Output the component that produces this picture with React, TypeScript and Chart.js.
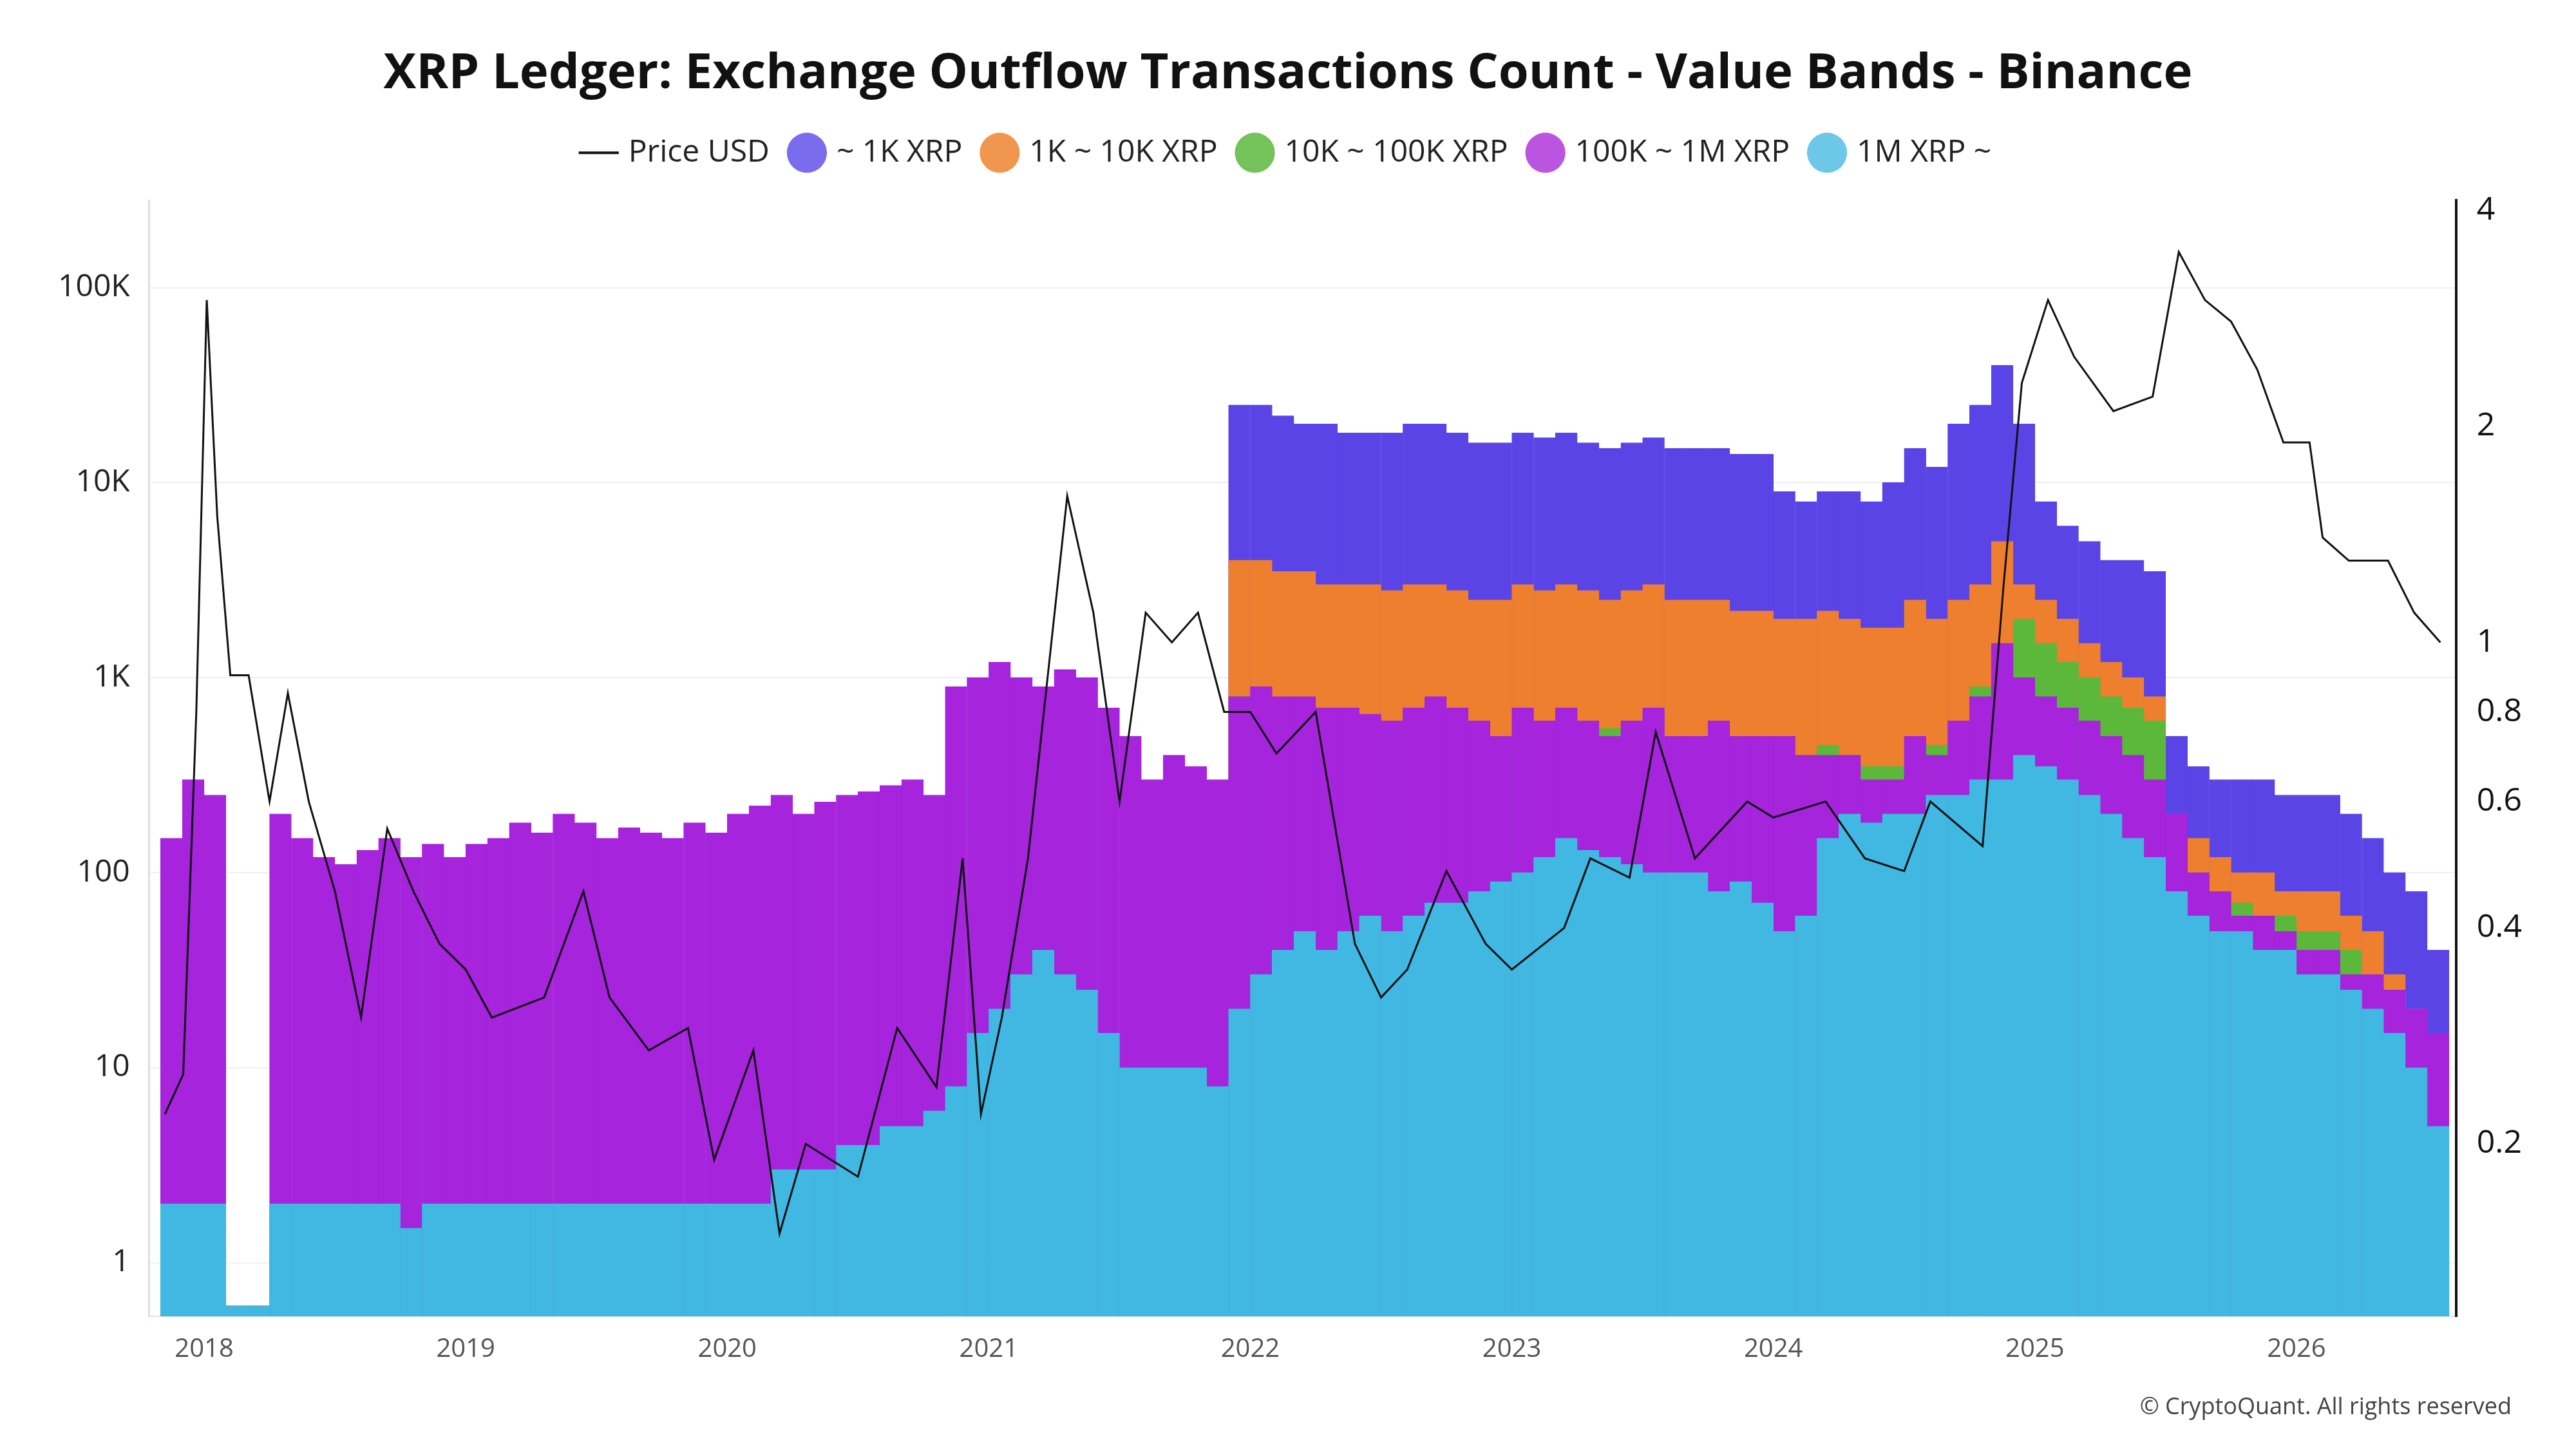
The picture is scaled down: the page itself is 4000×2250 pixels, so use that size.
import React, { useEffect, useRef } from 'react';
import { Chart, registerables } from 'chart.js';

Chart.register(...registerables);

// monthly buckets, Nov 2017 .. Jul 2026
const START_MONTH = 10; // Nov 2017 (0-based month of 2017)
const N = 105;
const months = Array.from({ length: N }, (_, i) => 2017 + (START_MONTH + i) / 12 + 1 / 24);

const pre = Array(49).fill(null);

const band100kTo1m = [
  150, 300,
  250, 0.6, 0.6, 200, 150, 120, 110, 130, 150, 120, 140, 120,
  140, 150, 180, 160, 200, 180, 150, 170, 160, 150, 180, 160,
  200, 220, 250, 200, 230, 250, 260, 280, 300, 250, 900, 1000,
  1200, 1000, 900, 1100, 1000, 700, 500, 300, 400, 350, 300, 800,
  900, 800, 800, 700, 700, 650, 600, 700, 800, 700, 600, 500,
  700, 600, 700, 600, 500, 600, 700, 500, 500, 600, 500, 500,
  500, 400, 400, 400, 300, 300, 500, 400, 600, 800, 1500, 1000,
  800, 700, 600, 500, 400, 300, 200, 100, 80, 60, 60, 50,
  40, 40, 30, 30, 25, 20, 15,
];

const band1mPlus = [
  2, 2,
  2, 0.6, 0.6, 2, 2, 2, 2, 2, 2, 1.5, 2, 2,
  2, 2, 2, 2, 2, 2, 2, 2, 2, 2, 2, 2,
  2, 2, 3, 3, 3, 4, 4, 5, 5, 6, 8, 15,
  20, 30, 40, 30, 25, 15, 10, 10, 10, 10, 8, 20,
  30, 40, 50, 40, 50, 60, 50, 60, 70, 70, 80, 90,
  100, 120, 150, 130, 120, 110, 100, 100, 100, 80, 90, 70,
  50, 60, 150, 200, 180, 200, 200, 250, 250, 300, 300, 400,
  350, 300, 250, 200, 150, 120, 80, 60, 50, 50, 40, 40,
  30, 30, 25, 20, 15, 10, 5,
];

const band10kTo100k = [
  ...pre, 800,
  800, 700, 700, 700, 600, 600, 600, 650, 600, 600, 550, 500,
  600, 600, 700, 600, 550, 600, 650, 500, 500, 500, 450, 450,
  450, 400, 450, 400, 350, 350, 500, 450, 600, 900, 1500, 2000,
  1500, 1200, 1000, 800, 700, 600, 150, 100, 80, 70, 60, 60,
  50, 50, 40, 30, 20, 15, 8,
];

const band1kTo10k = [
  ...pre, 4000,
  4000, 3500, 3500, 3000, 3000, 3000, 2800, 3000, 3000, 2800, 2500, 2500,
  3000, 2800, 3000, 2800, 2500, 2800, 3000, 2500, 2500, 2500, 2200, 2200,
  2000, 2000, 2200, 2000, 1800, 1800, 2500, 2000, 2500, 3000, 5000, 3000,
  2500, 2000, 1500, 1200, 1000, 800, 200, 150, 120, 100, 100, 80,
  80, 80, 60, 50, 30, 20, 10,
];

const bandTo1k = [
  ...pre, 25000,
  25000, 22000, 20000, 20000, 18000, 18000, 18000, 20000, 20000, 18000, 16000, 16000,
  18000, 17000, 18000, 16000, 15000, 16000, 17000, 15000, 15000, 15000, 14000, 14000,
  9000, 8000, 9000, 9000, 8000, 10000, 15000, 12000, 20000, 25000, 40000, 20000,
  8000, 6000, 5000, 4000, 4000, 3500, 500, 350, 300, 300, 300, 250,
  250, 250, 200, 150, 100, 80, 40,
];

const priceDates = [
  2017.85, 2017.92, 2017.97, 2018.01, 2018.05, 2018.1, 2018.17, 2018.25, 2018.32, 2018.4, 2018.5, 2018.6,
  2018.7, 2018.8, 2018.9, 2019.0, 2019.1, 2019.3, 2019.45, 2019.55, 2019.7, 2019.85, 2019.95, 2020.1,
  2020.2, 2020.3, 2020.5, 2020.65, 2020.8, 2020.9, 2020.97, 2021.05, 2021.15, 2021.3, 2021.4, 2021.5,
  2021.6, 2021.7, 2021.8, 2021.9, 2022.0, 2022.1, 2022.25, 2022.4, 2022.5, 2022.6, 2022.75, 2022.9,
  2023.0, 2023.2, 2023.3, 2023.45, 2023.55, 2023.7, 2023.9, 2024.0, 2024.2, 2024.35, 2024.5, 2024.6,
  2024.8, 2024.88, 2024.95, 2025.05, 2025.15, 2025.3, 2025.45, 2025.55, 2025.65, 2025.75, 2025.85, 2025.95,
  2026.0, 2026.05, 2026.1, 2026.2, 2026.35, 2026.45, 2026.55,
];
const priceUsd = [
  0.22, 0.25, 0.8, 3.0, 1.5, 0.9, 0.9, 0.6, 0.85, 0.6, 0.45, 0.3,
  0.55, 0.45, 0.38, 0.35, 0.3, 0.32, 0.45, 0.32, 0.27, 0.29, 0.19, 0.27,
  0.15, 0.2, 0.18, 0.29, 0.24, 0.5, 0.22, 0.3, 0.5, 1.6, 1.1, 0.6,
  1.1, 1.0, 1.1, 0.8, 0.8, 0.7, 0.8, 0.38, 0.32, 0.35, 0.48, 0.38,
  0.35, 0.4, 0.5, 0.47, 0.75, 0.5, 0.6, 0.57, 0.6, 0.5, 0.48, 0.6,
  0.52, 1.2, 2.3, 3.0, 2.5, 2.1, 2.2, 3.5, 3.0, 2.8, 2.4, 1.9,
  1.9, 1.9, 1.4, 1.3, 1.3, 1.1, 1.0,
];

const yearTicks = [2018, 2019, 2020, 2021, 2022, 2023, 2024, 2025, 2026];
const leftTicks = [1, 10, 100, 1000, 10000, 100000];
const leftLabels: Record<number, string> = { 1: '1', 10: '10', 100: '100', 1000: '1K', 10000: '10K', 100000: '100K' };
const rightTicks = [0.2, 0.4, 0.6, 0.8, 1, 2, 4];

const FONT = '"Open Sans", "Noto Sans", sans-serif';

const pts = (vals: (number | null)[]) => vals.map((v, i) => ({ x: months[i], y: v }));

// extra gap under the legend
const legendGap = {
  id: 'legendGap',
  beforeInit(chart: any) {
    const fit = chart.legend.fit;
    chart.legend.fit = function () {
      fit.bind(chart.legend)();
      this.height += 40;
    };
  },
};

export default function App() {
  const canvasRef = useRef<HTMLCanvasElement>(null);

  useEffect(() => {
    if (!canvasRef.current) return;
    const bar = (label: string, data: (number | null)[], color: string, legendColor: string, order: number) => ({
      type: 'bar' as const,
      label,
      data: pts(data),
      backgroundColor: color,
      borderColor: color,
      borderWidth: 2,
      barPercentage: 1,
      categoryPercentage: 1,
      yAxisID: 'y',
      order,
      pointStyle: 'circle',
      legendColor,
    });
    const chart = new Chart(canvasRef.current, {
      plugins: [legendGap],
      data: {
        datasets: [
          {
            type: 'line',
            label: 'Price USD',
            data: priceDates.map((d, i) => ({ x: d, y: priceUsd[i] })),
            borderColor: '#111',
            backgroundColor: '#111',
            borderWidth: 3,
            pointRadius: 0,
            tension: 0,
            yAxisID: 'y1',
            order: 0,
            pointStyle: 'line',
          },
          bar('~ 1K XRP', bandTo1k, '#5a44e6', '#7b6cee', 5),
          bar('1K ~ 10K XRP', band1kTo10k, '#ee7f2e', '#f0964e', 4),
          bar('10K ~ 100K XRP', band10kTo100k, '#5cb83a', '#74c25a', 3),
          bar('100K ~ 1M XRP', band100kTo1m, '#a524dc', '#bb55e0', 2),
          bar('1M XRP ~', band1mPlus, '#40b8e2', '#6cc8e6', 1),
        ] as any,
      },
      options: {
        animation: false,
        responsive: true,
        maintainAspectRatio: false,
        layout: { padding: { left: 60, right: 60, top: 20, bottom: 110 } },
        plugins: {
          title: {
            display: true,
            text: 'XRP Ledger: Exchange Outflow Transactions Count - Value Bands - Binance',
            color: '#111',
            font: { family: FONT, size: 76, weight: 'bold' },
            padding: { top: 50, bottom: 16 },
          },
          legend: {
            labels: {
              usePointStyle: true,
              color: '#222',
              font: { family: FONT, size: 48 },
              boxWidth: 44,
              boxHeight: 44,
              padding: 36,
              generateLabels: (c: Chart) =>
                c.data.datasets.map((ds: any, i) => ({
                  text: ds.label,
                  fillStyle: ds.legendColor ?? '#111',
                  strokeStyle: ds.legendColor ?? '#111',
                  lineWidth: ds.legendColor ? 0 : 4,
                  pointStyle: ds.pointStyle,
                  datasetIndex: i,
                  hidden: false,
                  fontColor: '#222',
                })),
            },
          },
          tooltip: { enabled: false },
        },
        scales: {
          x: {
            type: 'linear',
            min: 2017.79,
            max: 2026.61,
            stacked: true,
            offset: false,
            afterBuildTicks: (s: any) => { s.ticks = yearTicks.map(v => ({ value: v })); },
            ticks: { color: '#555', font: { family: FONT, size: 40 }, padding: 20, callback: (v: any) => String(v) },
            grid: { display: false },
            border: { display: true, color: '#e4e4e4', width: 2 },
          },
          y: {
            type: 'logarithmic',
            position: 'left',
            min: 0.53,
            max: 280000,
            stacked: false,
            afterBuildTicks: (s: any) => { s.ticks = leftTicks.map(v => ({ value: v })); },
            ticks: { color: '#222', font: { family: FONT, size: 48 }, padding: 30, callback: (v: any) => leftLabels[v] ?? '' },
            grid: { color: '#f0f0f0', lineWidth: 2, drawTicks: false },
            border: { display: true, color: '#ddd', width: 3 },
          },
          y1: {
            type: 'logarithmic',
            position: 'right',
            min: 0.115,
            max: 4.13,
            afterBuildTicks: (s: any) => { s.ticks = rightTicks.map(v => ({ value: v })); },
            ticks: { color: '#111', font: { family: FONT, size: 50 }, padding: 24, callback: (v: any) => String(v) },
            grid: { display: false },
            border: { display: true, color: '#111', width: 4 },
          },
        },
      } as any,
    });
    return () => chart.destroy();
  }, []);

  return (
    <div style={{ position: 'absolute', left: 0, top: 0, width: 4000, height: 2250, background: '#fff' }}>
      <canvas ref={canvasRef} style={{ width: '100%', height: '100%' }} />
      <div style={{ position: 'absolute', right: 100, top: 2158, fontFamily: FONT, fontSize: 36, color: '#444' }}>
        © CryptoQuant. All rights reserved
      </div>
    </div>
  );
}
